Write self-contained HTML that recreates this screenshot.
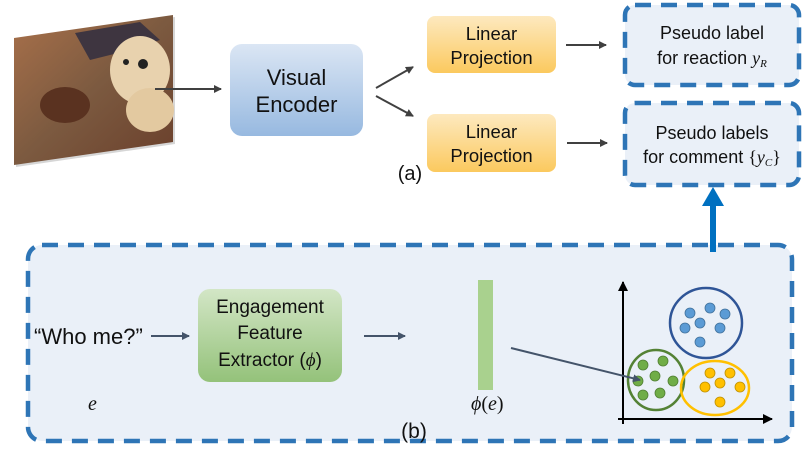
<!DOCTYPE html>
<html><head><meta charset="utf-8"><style>
html,body{margin:0;padding:0;background:#fff;}
svg{display:block;font-family:"Liberation Sans",sans-serif;}
</style></head><body>
<svg width="805" height="450" viewBox="0 0 805 450" xmlns="http://www.w3.org/2000/svg">
<defs>
<linearGradient id="gb" x1="0" y1="0" x2="0" y2="1"><stop offset="0" stop-color="#dbe6f4"/><stop offset="1" stop-color="#97b9e0"/></linearGradient>
<linearGradient id="go" x1="0" y1="0" x2="0" y2="1"><stop offset="0" stop-color="#fde9bf"/><stop offset="1" stop-color="#fbc95e"/></linearGradient>
<linearGradient id="gg" x1="0" y1="0" x2="0" y2="1"><stop offset="0" stop-color="#d3e6c6"/><stop offset="1" stop-color="#94c27a"/></linearGradient>
<linearGradient id="gi" x1="0" y1="0" x2="1" y2="1"><stop offset="0" stop-color="#a8704a"/><stop offset="0.5" stop-color="#7c5a40"/><stop offset="1" stop-color="#6a3f2b"/></linearGradient>
<marker id="ah" markerWidth="8" markerHeight="8" refX="7" refY="4" orient="auto" markerUnits="userSpaceOnUse"><path d="M0,0 L8,4 L0,8 z" fill="#404040"/></marker>
<marker id="ah2" markerWidth="8" markerHeight="8" refX="7" refY="4" orient="auto" markerUnits="userSpaceOnUse"><path d="M0,0 L8,4 L0,8 z" fill="#44546a"/></marker>
<marker id="ah3" markerWidth="10" markerHeight="10" refX="9" refY="5" orient="auto" markerUnits="userSpaceOnUse"><path d="M0,0 L10,5 L0,10 z" fill="#000"/></marker>
</defs>
<polygon points="16,40 175,17 175,144 16,167" fill="#999" opacity="0.4"/>
<polygon points="14,38 173,15 173,142 14,165" fill="url(#gi)"/>
<polygon points="75,33 140,22 160,40 130,50 90,60" fill="#3e3540"/>
<ellipse cx="140" cy="70" rx="30" ry="34" fill="#e8d2ae"/>
<ellipse cx="150" cy="110" rx="24" ry="22" fill="#e3c9a0"/>
<ellipse cx="65" cy="105" rx="25" ry="18" fill="#5a3220"/>
<circle cx="126" cy="62" r="3" fill="#222"/><circle cx="143" cy="64" r="5" fill="#222"/>
<line x1="155" y1="89" x2="221" y2="89" stroke="#404040" stroke-width="2" marker-end="url(#ah)"/>
<rect x="230" y="44" width="133" height="92" rx="12" fill="url(#gb)"/>
<text x="296.5" y="85" font-size="22" text-anchor="middle" fill="#111">Visual</text>
<text x="296.5" y="112" font-size="22" text-anchor="middle" fill="#111">Encoder</text>
<line x1="376" y1="88" x2="413" y2="67" stroke="#404040" stroke-width="2" marker-end="url(#ah)"/>
<line x1="376" y1="96" x2="413" y2="116" stroke="#404040" stroke-width="2" marker-end="url(#ah)"/>
<rect x="427" y="16" width="129" height="57" rx="8" fill="url(#go)"/>
<text x="491.5" y="40" font-size="18.5" text-anchor="middle" fill="#111">Linear</text>
<text x="491.5" y="64" font-size="18.5" text-anchor="middle" fill="#111">Projection</text>
<rect x="427" y="114" width="129" height="58" rx="8" fill="url(#go)"/>
<text x="491.5" y="138" font-size="18.5" text-anchor="middle" fill="#111">Linear</text>
<text x="491.5" y="162" font-size="18.5" text-anchor="middle" fill="#111">Projection</text>
<line x1="566" y1="45" x2="606" y2="45" stroke="#404040" stroke-width="2" marker-end="url(#ah)"/>
<line x1="567" y1="143" x2="607" y2="143" stroke="#404040" stroke-width="2" marker-end="url(#ah)"/>
<rect x="625" y="5" width="174" height="80" rx="10" fill="#eaf0f8" stroke="#2e75b6" stroke-width="4.5" stroke-dasharray="16,10"/>
<text x="712" y="39" font-size="18" text-anchor="middle" fill="#111">Pseudo label</text>
<text x="712" y="64" font-size="18" text-anchor="middle" fill="#111">for reaction <tspan font-family="Liberation Serif,serif" font-style="italic">y</tspan><tspan font-family="Liberation Serif,serif" font-style="italic" font-size="11" dy="3">R</tspan></text>
<rect x="625" y="103" width="174" height="82" rx="10" fill="#eaf0f8" stroke="#2e75b6" stroke-width="4.5" stroke-dasharray="16,10"/>
<text x="712" y="139" font-size="18" text-anchor="middle" fill="#111">Pseudo labels</text>
<text x="712" y="163" font-size="18" text-anchor="middle" fill="#111">for comment <tspan font-family="Liberation Serif,serif">{<tspan font-style="italic">y</tspan><tspan font-style="italic" font-size="11" dy="3">C</tspan><tspan dy="-3">}</tspan></tspan></text>
<text x="410" y="180" font-size="20" text-anchor="middle" fill="#111">(a)</text>
<rect x="28" y="245" width="764" height="196" rx="14" fill="#eaf0f8" stroke="#2e75b6" stroke-width="4.5" stroke-dasharray="16,10"/>
<line x1="713" y1="252" x2="713" y2="205" stroke="#0070c0" stroke-width="6"/>
<path d="M702,206 L713,187 L724,206 z" fill="#0070c0"/>
<text x="34" y="344" font-size="22" fill="#111">“Who me?”</text>
<line x1="151" y1="336" x2="189" y2="336" stroke="#44546a" stroke-width="2" marker-end="url(#ah2)"/>
<rect x="198" y="289" width="144" height="93" rx="12" fill="url(#gg)"/>
<text x="270" y="313" font-size="19" text-anchor="middle" fill="#111">Engagement</text>
<text x="270" y="339" font-size="19" text-anchor="middle" fill="#111">Feature</text>
<text x="270" y="366" font-size="19" text-anchor="middle" fill="#111">Extractor (<tspan font-family="Liberation Serif,serif" font-style="italic">ϕ</tspan>)</text>
<line x1="364" y1="336" x2="405" y2="336" stroke="#44546a" stroke-width="2" marker-end="url(#ah2)"/>
<rect x="478" y="280" width="15" height="110" fill="#a9d18e"/>
<text x="88" y="410" font-size="20" font-family="Liberation Serif,serif" font-style="italic" fill="#111">e</text>
<text x="471" y="410" font-size="20" font-family="Liberation Serif,serif" fill="#111"><tspan font-style="italic">ϕ</tspan>(<tspan font-style="italic">e</tspan>)</text>
<text x="414" y="438" font-size="21" text-anchor="middle" fill="#111">(b)</text>
<line x1="623" y1="424" x2="623" y2="282" stroke="#000" stroke-width="2" marker-end="url(#ah3)"/>
<line x1="618" y1="419" x2="772" y2="419" stroke="#000" stroke-width="2" marker-end="url(#ah3)"/>
<ellipse cx="706" cy="323" rx="36" ry="35" fill="none" stroke="#2f5597" stroke-width="2.5"/>
<ellipse cx="656" cy="380" rx="28" ry="30" fill="none" stroke="#548235" stroke-width="2.5"/>
<ellipse cx="715" cy="388" rx="34" ry="27" fill="none" stroke="#ffc000" stroke-width="2.5"/>
<g fill="#5b9bd5" stroke="#41719c" stroke-width="0.8">
<circle cx="690" cy="313" r="5"/><circle cx="710" cy="308" r="5"/><circle cx="725" cy="314" r="5"/><circle cx="700" cy="323" r="5"/><circle cx="720" cy="328" r="5"/><circle cx="685" cy="328" r="5"/><circle cx="700" cy="342" r="5"/></g>
<g fill="#70ad47" stroke="#507e32" stroke-width="0.8">
<circle cx="643" cy="365" r="5"/><circle cx="663" cy="361" r="5"/><circle cx="655" cy="376" r="5"/><circle cx="673" cy="381" r="5"/><circle cx="638" cy="381" r="5"/><circle cx="643" cy="395" r="5"/><circle cx="660" cy="393" r="5"/></g>
<g fill="#ffc000" stroke="#bf9000" stroke-width="0.8">
<circle cx="710" cy="373" r="5"/><circle cx="730" cy="373" r="5"/><circle cx="720" cy="383" r="5"/><circle cx="705" cy="387" r="5"/><circle cx="740" cy="387" r="5"/><circle cx="720" cy="402" r="5"/></g>
<line x1="511" y1="348" x2="640" y2="380" stroke="#44546a" stroke-width="2" marker-end="url(#ah2)"/>
</svg>
</body></html>
